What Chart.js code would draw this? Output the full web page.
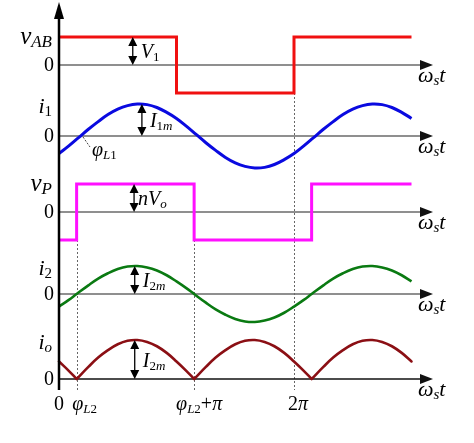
<!DOCTYPE html>
<html><head><meta charset="utf-8">
<script src="https://cdn.jsdelivr.net/npm/chart.js@4.4.1/dist/chart.umd.min.js"></script>
<style>html,body{margin:0;padding:0;background:#fff;overflow:hidden}canvas{display:block}</style>
</head><body>
<canvas id="c" width="474" height="443"></canvas>
<script>
// ---- data (angles in degrees of ωs·t; values normalised to each trace's amplitude) ----
const angleDeg = [0,15,30,45,60,75,90,105,120,135,150,165,180,195,210,225,240,255,270,285,300,315,330,345,360,375,390,405,420,435,450,465,480,495,510,525,540];
const vabEdges = [0,180,360,540];
const vabValues = [1,-1,1,1];
const i1Values = [-0.55,-0.31,-0.05,0.21,0.45,0.67,0.84,0.95,1.00,0.98,0.89,0.74,0.55,0.31,0.05,-0.21,-0.45,-0.67,-0.84,-0.95,-1.00,-0.98,-0.89,-0.74,-0.55,-0.31,-0.05,0.21,0.45,0.67,0.84,0.95,1.00,0.98,0.89,0.74,0.55];
const vpEdges = [0,27,207,387,540];
const vpValues = [-1,1,-1,1,1];
const angleDeg2 = [0,15,27,45,60,75,90,105,120,135,150,165,180,195,207,225,240,255,270,285,300,315,330,345,360,375,387,405,420,435,450,465,480,495,510,525,540];
const i2Values = [-0.45,-0.21,0,0.31,0.55,0.74,0.89,0.98,1.00,0.95,0.84,0.67,0.45,0.21,0,-0.31,-0.55,-0.74,-0.89,-0.98,-1.00,-0.95,-0.84,-0.67,-0.45,-0.21,0,0.31,0.55,0.74,0.89,0.98,1.00,0.95,0.84,0.67,0.45];
const ioValues = [0.45,0.21,0,0.31,0.55,0.74,0.89,0.98,1.00,0.95,0.84,0.67,0.45,0.21,0,0.31,0.55,0.74,0.89,0.98,1.00,0.95,0.84,0.67,0.45,0.21,0,0.31,0.55,0.74,0.89,0.98,1.00,0.95,0.84,0.67,0.45];
const seriesNames = ['v_{AB}','i_{1}','v_{P}','i_{2}','i_{o}'];
const amplitudeNames = ['V_{1}','I_{1m}','nV_{o}','I_{2m}','I_{2m}'];
const xTickValues = [0,27,207,360];
const xTickLabels = ['0','φ_{L2}','φ_{L2}+π','2π'];
const xAxisLabel = 'ω_{s}t';
const phaseLabel = 'φ_{L1}';

// ---- layout ----
const W = 474, H = 443;
const X0 = 59, PX_PER_DEG = 117.5/180;
const panels = [ // zero-line pixel, amplitude pixels
  {id:'yAB', zero:65, amp:28},
  {id:'yI1', zero:136, amp:32},
  {id:'yP',  zero:212, amp:28},
  {id:'yI2', zero:294, amp:28},
  {id:'yIo', zero:379, amp:39}
];
const scales = {
  x: {type:'linear', display:false, min:-X0/PX_PER_DEG, max:(W-X0)/PX_PER_DEG}
};
panels.forEach(p => {
  scales[p.id] = {type:'linear', display:false, max:p.zero/p.amp, min:(p.zero-H)/p.amp};
});

const pts = (xs, ys) => xs.map((x,i)=>({x, y:ys[i]}));
const ioData = [];
angleDeg2.forEach((x,i)=>{
  const y = ioValues[i];
  if (y === 0 && i>0 && i<angleDeg2.length-1) {
    ioData.push({x,y:0},{x,y:null},{x,y:0});
  } else ioData.push({x,y});
});

const FONT = '"Liberation Serif","DejaVu Serif",serif';
function parseRich(s){
  const out=[]; const re=/_\{([^}]*)\}|([^_]+)/g; let m;
  while((m=re.exec(s))){ if(m[1]!==undefined) out.push({t:m[1],sub:true}); else out.push({t:m[2],sub:false}); }
  return out;
}
function charFont(ch,size){ return (/[A-Za-zα-ωφ]/.test(ch)?'italic ':'')+size+'px '+FONT; }
function drawRich(ctx,s,x,y,size,align,color){
  const sub=Math.round(size*0.66), segs=parseRich(s);
  const items=[]; let w=0;
  segs.forEach(sg=>{ for(const ch of sg.t){ const sz=sg.sub?sub:size; ctx.font=charFont(ch,sz); const cw=ctx.measureText(ch).width; items.push({ch,sz,dy:sg.sub?3:0,cw}); w+=cw; }});
  let cx = align==='right'? x-w : align==='center'? x-w/2 : x;
  ctx.fillStyle=color||'#000'; ctx.textBaseline='alphabetic'; ctx.textAlign='left';
  items.forEach(it=>{ ctx.font=charFont(it.ch,it.sz); ctx.fillText(it.ch,cx,y+it.dy); cx+=it.cw; });
}
function arrowHead(ctx,tx,ty,dir,len,half){ // dir: 'up','down','right'
  ctx.beginPath();
  if(dir==='up'){ctx.moveTo(tx,ty);ctx.lineTo(tx-half,ty+len);ctx.lineTo(tx+half,ty+len);}
  else if(dir==='down'){ctx.moveTo(tx,ty);ctx.lineTo(tx-half,ty-len);ctx.lineTo(tx+half,ty-len);}
  else {ctx.moveTo(tx,ty);ctx.lineTo(tx-len,ty-half);ctx.lineTo(tx-len,ty+half);}
  ctx.closePath(); ctx.fill();
}

const decor = {
  id:'decor',
  beforeDatasetsDraw(chart){
    const ctx=chart.ctx, xs=chart.scales.x;
    ctx.save();
    ctx.strokeStyle='#666'; ctx.lineWidth=1; ctx.setLineDash([2,2]);
    const guides=[
      {x:vabEdges[2], y1:chart.scales.yAB.getPixelForValue(-1)},
      {x:vpEdges[1], y1:chart.scales.yP.getPixelForValue(-1)},
      {x:vpEdges[2], y1:chart.scales.yP.getPixelForValue(-1)}
    ];
    const yBottom = chart.scales.yIo.getPixelForValue(0)+11;
    guides.forEach(g=>{ const px=Math.round(xs.getPixelForValue(g.x))+0.5; ctx.beginPath(); ctx.moveTo(px,g.y1); ctx.lineTo(px,yBottom); ctx.stroke(); });
    ctx.setLineDash([]);
    const xEnd = xs.getPixelForValue(0)+374;
    panels.forEach((p,i)=>{
      const y=chart.scales[p.id].getPixelForValue(0);
      ctx.strokeStyle = i===4?'#111':'#6a6a6a'; ctx.lineWidth=1.5;
      ctx.beginPath(); ctx.moveTo(xs.getPixelForValue(0),y); ctx.lineTo(xEnd-10,y); ctx.stroke();
      ctx.fillStyle='#111'; arrowHead(ctx,xEnd,y,'right',13,5);
    });
    ctx.restore();
  },
  afterDatasetsDraw(chart){
    const ctx=chart.ctx, xs=chart.scales.x;
    ctx.save();
    const x0=xs.getPixelForValue(0);
    ctx.strokeStyle='#000'; ctx.lineWidth=2.5;
    ctx.beginPath(); ctx.moveTo(x0,390); ctx.lineTo(x0,12); ctx.stroke();
    ctx.fillStyle='#000'; arrowHead(ctx,x0,2,'up',17,5);
    panels.forEach((p,i)=>{
      const sc=chart.scales[p.id], y0=sc.getPixelForValue(0), y1=sc.getPixelForValue(1);
      drawRich(ctx,'0',54,y0+6,20,'right');
      drawRich(ctx,seriesNames[i],52,y1+(i===0||i===2?7:9),i===0||i===2?25:22,'right');
      drawRich(ctx,xAxisLabel,418,y0+17,22,'left');
      const ax = xs.getPixelForValue([113,127,115,116,116][i]);
      ctx.strokeStyle='#000'; ctx.lineWidth=1.3; ctx.fillStyle='#000';
      ctx.beginPath(); ctx.moveTo(ax,y1+6); ctx.lineTo(ax,y0-6); ctx.stroke();
      arrowHead(ctx,ax,y1,'up',9,4.5); arrowHead(ctx,ax,y0,'down',9,4.5);
      drawRich(ctx,amplitudeNames[i],ax+(i===2?4:8),(y0+y1)/2+7,20,'left');
    });
    ctx.strokeStyle='#444'; ctx.lineWidth=1; ctx.setLineDash([2,1.5]);
    ctx.beginPath(); ctx.moveTo(83,137); ctx.lineTo(90,147); ctx.stroke(); ctx.setLineDash([]);
    drawRich(ctx,phaseLabel,92,156,20,'left');
    const shift=[0,8,5,4];
    xTickValues.forEach((v,i)=>{ drawRich(ctx,xTickLabels[i],xs.getPixelForValue(v)+shift[i],410,20,'center'); });
    ctx.restore();
  }
};

new Chart(document.getElementById('c'),{
  type:'line',
  data:{datasets:[
    {data:pts(vabEdges,vabValues), yAxisID:'yAB', borderColor:'#f01010', borderWidth:3, stepped:'before', pointRadius:0},
    {data:pts(angleDeg,i1Values), yAxisID:'yI1', borderColor:'#0a0ae0', borderWidth:3, tension:0.4, pointRadius:0},
    {data:pts(vpEdges,vpValues), yAxisID:'yP', borderColor:'#ff10ff', borderWidth:3, stepped:'before', pointRadius:0},
    {data:pts(angleDeg2,i2Values), yAxisID:'yI2', borderColor:'#0a7a12', borderWidth:2.6, tension:0.4, pointRadius:0},
    {data:ioData, yAxisID:'yIo', borderColor:'#8b0f14', borderWidth:2.6, tension:0.4, pointRadius:0, spanGaps:false, borderCapStyle:'round'}
  ]},
  options:{
    responsive:false, animation:false, events:[],
    layout:{padding:0},
    plugins:{legend:{display:false}, tooltip:{enabled:false}},
    scales
  },
  plugins:[decor]
});
</script>
</body></html>
